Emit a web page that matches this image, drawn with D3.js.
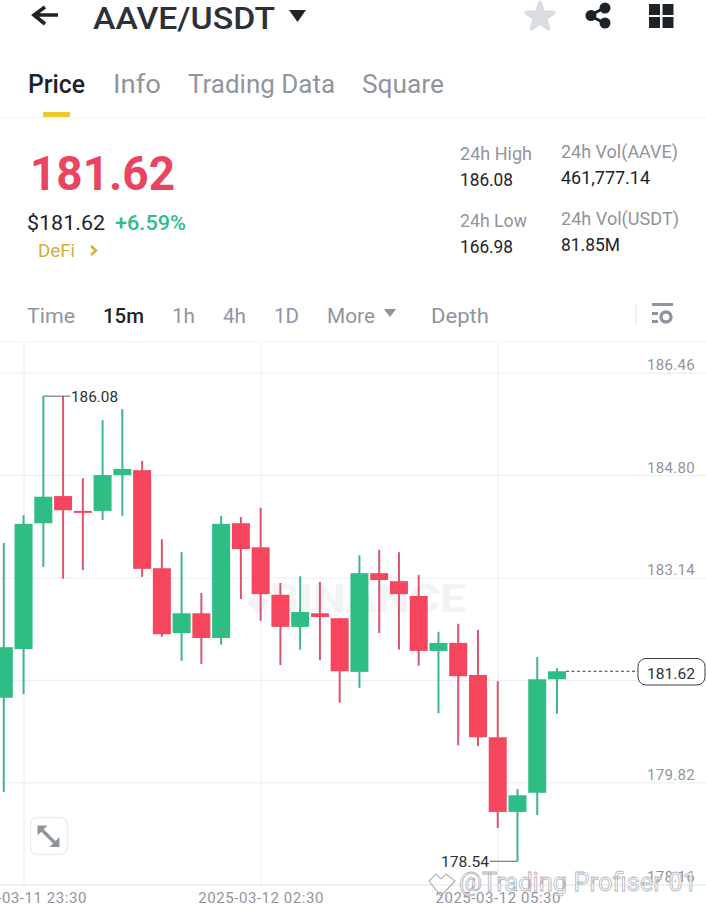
<!DOCTYPE html>
<html>
<head>
<meta charset="utf-8">
<script src="https://cdn.jsdelivr.net/npm/d3@7"></script>
<style>
  html, body { margin: 0; padding: 0; background: #fff; overflow: hidden; }
  text { font-family: Roboto, sans-serif; }
</style>
</head>
<body>
<div id="chart"></div>
<script>
/** DATA */
const times = ["2025-03-11 23:15", "2025-03-11 23:30", "2025-03-11 23:45", "2025-03-12 00:00", "2025-03-12 00:15",
  "2025-03-12 00:30", "2025-03-12 00:45", "2025-03-12 01:00", "2025-03-12 01:15", "2025-03-12 01:30",
  "2025-03-12 01:45", "2025-03-12 02:00", "2025-03-12 02:15", "2025-03-12 02:30", "2025-03-12 02:45",
  "2025-03-12 03:00", "2025-03-12 03:15", "2025-03-12 03:30", "2025-03-12 03:45", "2025-03-12 04:00",
  "2025-03-12 04:15", "2025-03-12 04:30", "2025-03-12 04:45", "2025-03-12 05:00", "2025-03-12 05:15",
  "2025-03-12 05:30", "2025-03-12 05:45", "2025-03-12 06:00", "2025-03-12 06:15"];
const opens = [181.19, 181.98, 184.02, 184.46, 184.22, 184.22, 184.80, 184.88, 183.29, 182.24, 182.56, 182.16, 184.02, 183.63, 182.86,
  182.34, 182.56, 182.48, 181.61, 183.21, 183.08, 182.84, 181.95, 182.08, 181.56, 180.55, 179.34, 179.65, 181.49];
const closes = [182.01, 184.01, 184.45, 184.23, 184.19, 184.80, 184.90, 183.28, 182.22, 182.56, 182.16, 184.01, 183.60, 182.87, 182.34,
  182.58, 182.50, 181.62, 183.21, 183.10, 182.87, 181.95, 182.08, 181.54, 180.55, 179.34, 179.61, 181.49, 181.62];
const highs = [183.70, 184.15, 186.08, 186.08, 184.75, 185.69, 185.87, 185.03, 183.76, 183.55, 182.89, 184.14, 184.12, 184.27, 183.05,
  183.16, 183.07, 182.48, 183.50, 183.59, 183.55, 183.18, 182.26, 182.39, 182.29, 181.46, 179.71, 181.85, 181.67];
const lows = [179.66, 181.25, 183.31, 183.12, 183.26, 184.07, 184.14, 183.15, 182.18, 181.79, 181.74, 182.05, 182.79, 182.44, 181.72,
  181.97, 181.80, 181.11, 181.35, 182.24, 181.97, 181.71, 180.94, 180.42, 180.41, 179.08, 178.54, 179.29, 180.93];
const priceTicks = [186.46, 184.80, 183.14, 181.48, 179.82, 178.16];
const timeTicks = ["2025-03-11 23:30", "2025-03-12 02:30", "2025-03-12 05:30"];
const lastPrice = 181.62;
const dayHigh = 186.08;
const dayLow = 178.54;

/** CONSTANTS */
const width = 706;
const height = 904;
const chart = { top: 342, bottom: 885 };
const green = "#2ebd85";
const red = "#f6465d";
const gridColor = "#ebecee";
const grey = "#8f959e";
const dark = "#1e2329";

const parseTime = d3.utcParse("%Y-%m-%d %H:%M");
const candles = times.map((t, i) => ({
  date: parseTime(t), open: opens[i], close: closes[i], high: highs[i], low: lows[i]
}));

const xScale = d3.scaleUtc()
  .domain([candles[0].date, candles[candles.length - 1].date])
  .range([3.8, 557]);
const yScale = d3.scaleLinear()
  .domain([priceTicks[0], priceTicks[priceTicks.length - 1]])
  .range([372.7, 884.7]);
const bodyWidth = 18;

const svg = d3.select("#chart")
  .append("svg")
  .attr("width", width)
  .attr("height", height)
  .style("display", "block");

// plain text helper, textLength keeps the widths of the screenshot's font
function label(x, y, str, size, color, w, weight) {
  return svg.append("text")
    .attr("x", x)
    .attr("y", y)
    .attr("font-size", size)
    .attr("fill", color)
    .attr("font-weight", weight || 400)
    .attr("textLength", w)
    .attr("lengthAdjust", "spacingAndGlyphs")
    .text(str);
}

/** HEADER */
svg.append("path")
  .attr("d", "M58 15H35M45 7L34 15L45 24")
  .attr("fill", "none").attr("stroke", dark).attr("stroke-width", 3.6);
label(93, 29, "AAVE/USDT", 32, "#2b3139", 182, 500);
svg.append("path").attr("d", "M289 10H306L297.5 22Z").attr("fill", dark);
svg.append("path")
  .attr("d", d3.symbol(d3.symbolStar, 230)())
  .attr("transform", "translate(540,17)")
  .attr("fill", "#d9dce1")
  .attr("stroke", "#d9dce1")
  .attr("stroke-width", 4)
  .attr("stroke-linejoin", "round");
svg.append("path")
  .attr("d", "M606 7L590 15.5L606 24")
  .attr("fill", "none").attr("stroke", dark).attr("stroke-width", 3);
[[605, 8], [591, 15.5], [605, 23]].forEach(p => {
  svg.append("circle").attr("cx", p[0]).attr("cy", p[1]).attr("r", 5.5).attr("fill", dark);
});
[[649, 4], [662.5, 4], [649, 17], [662.5, 17]].forEach(p => {
  svg.append("rect").attr("x", p[0]).attr("y", p[1]).attr("width", 11).attr("height", 11).attr("fill", dark);
});

/** TABS */
label(28, 93, "Price", 25, dark, 57, 500);
label(113, 93, "Info", 25, grey, 48);
label(188, 93, "Trading Data", 25, grey, 147);
label(362, 93, "Square", 25, grey, 82);
svg.append("rect").attr("x", 43).attr("y", 112).attr("width", 27).attr("height", 5).attr("fill", "#f0c92e");
svg.append("line").attr("x1", 0).attr("x2", width).attr("y1", 117.5).attr("y2", 117.5).attr("stroke", "#f6f6f7");

/** TICKER */
label(30, 190, "181.62", 49, "#ea4560", 145, 700);
label(27, 230, "$181.62", 21, dark, 78);
label(115, 230, "+6.59%", 21, green, 71, 500);
label(38, 257, "DeFi", 18, "#d4af37", 37);
svg.append("path")
  .attr("d", "M91 246L96 250.500L91 255")
  .attr("fill", "none").attr("stroke", "#d4af37").attr("stroke-width", 2.4);

label(460, 160, "24h High", 18, grey, 72);
label(460, 186, "186.08", 18, dark, 53);
label(460, 227, "24h Low", 18, grey, 67);
label(460, 253, "166.98", 18, dark, 53);
label(561, 158, "24h Vol(AAVE)", 18, grey, 117);
label(561, 184, "461,777.14", 18, dark, 89);
label(561, 225, "24h Vol(USDT)", 18, grey, 118);
label(561, 251, "81.85M", 18, dark, 59);

/** INTERVAL ROW */
label(27, 323, "Time", 21, grey, 48);
label(103, 323, "15m", 21, dark, 41, 500);
label(172, 323, "1h", 21, grey, 23);
label(223, 323, "4h", 21, grey, 23);
label(274, 323, "1D", 21, grey, 25);
label(327, 323, "More", 21, grey, 48);
svg.append("path").attr("d", "M384 309H396L390 317Z").attr("fill", grey);
label(431, 323, "Depth", 21, grey, 58);
svg.append("line").attr("x1", 636).attr("x2", 636).attr("y1", 304).attr("y2", 325).attr("stroke", "#e6e8ea");
svg.append("rect").attr("x", 652).attr("y", 303).attr("width", 21).attr("height", 3).attr("fill", grey);
svg.append("rect").attr("x", 652).attr("y", 312).attr("width", 6).attr("height", 3).attr("fill", grey);
svg.append("rect").attr("x", 652).attr("y", 320).attr("width", 6).attr("height", 3).attr("fill", grey);
svg.append("circle").attr("cx", 666).attr("cy", 317).attr("r", 5).attr("fill", "none").attr("stroke", grey).attr("stroke-width", 3.4);

/** GRID AND AXES */
svg.append("line").attr("x1", 0).attr("x2", width).attr("y1", chart.top).attr("y2", chart.top).attr("stroke", "#f4f4f5");

const yAxis = d3.axisRight(yScale)
  .tickValues(priceTicks)
  .tickFormat(d3.format(".2f"))
  .tickSize(width)
  .tickPadding(0);
const yAxisG = svg.append("g").call(yAxis);
yAxisG.select(".domain").remove();
yAxisG.selectAll("line").attr("stroke", gridColor);
yAxisG.selectAll("text")
  .attr("x", 695)
  .attr("dy", "-3px")
  .attr("text-anchor", "end")
  .attr("font-size", 15)
  .attr("letter-spacing", 0.3)
  .attr("fill", grey)
  .attr("font-family", "Roboto, sans-serif");

const xAxis = d3.axisBottom(xScale)
  .tickValues(timeTicks.map(parseTime))
  .tickFormat(d3.utcFormat("%Y-%m-%d %H:%M"))
  .tickSize(chart.top - chart.bottom)
  .tickPadding(0);
const xAxisG = svg.append("g")
  .attr("transform", `translate(0,${chart.bottom})`)
  .call(xAxis);
xAxisG.select(".domain").remove();
xAxisG.selectAll("line").attr("stroke", gridColor);
xAxisG.selectAll("text")
  .attr("y", 18)
  .attr("dy", 0)
  .attr("font-size", 15)
  .attr("letter-spacing", 0.55)
  .attr("fill", grey)
  .attr("font-family", "Roboto, sans-serif");
svg.append("line").attr("x1", 0).attr("x2", width).attr("y1", chart.bottom).attr("y2", chart.bottom).attr("stroke", gridColor);

/** BINANCE WATERMARK */
svg.append("text")
  .attr("x", 270).attr("y", 612)
  .attr("font-size", 38).attr("font-weight", 700)
  .attr("fill", "#f2f3f4")
  .attr("textLength", 196).attr("lengthAdjust", "spacingAndGlyphs")
  .text("BINANCE");
svg.append("path")
  .attr("d", "M258 592L269 603L258 614L247 603Z")
  .attr("fill", "#f2f3f4");

/** CANDLES */
const candleColor = d => d.close >= d.open ? green : red;

svg.selectAll("line.wick")
  .data(candles)
  .join("line")
  .attr("class", "wick")
  .attr("x1", d => xScale(d.date))
  .attr("x2", d => xScale(d.date))
  .attr("y1", d => yScale(d.high))
  .attr("y2", d => yScale(d.low))
  .attr("stroke", d => d.close >= d.open ? "#3eb68a" : "#d9566c")
  .attr("stroke-width", 2);

svg.selectAll("rect.body")
  .data(candles)
  .join("rect")
  .attr("class", "body")
  .attr("x", d => xScale(d.date) - bodyWidth / 2)
  .attr("width", bodyWidth)
  .attr("y", d => yScale(Math.max(d.open, d.close)))
  .attr("height", d => Math.max(2, Math.abs(yScale(d.open) - yScale(d.close))))
  .attr("fill", candleColor);

/** HIGH / LOW MARKERS */
const highX = xScale(candles[d3.greatestIndex(highs)].date);
svg.append("line")
  .attr("x1", highX).attr("x2", 70)
  .attr("y1", yScale(dayHigh)).attr("y2", yScale(dayHigh))
  .attr("stroke", "#5a6068").attr("stroke-width", 1);
label(71, yScale(dayHigh) + 6, d3.format(".2f")(dayHigh), 15, "#2b3139", 47);

const lowX = xScale(candles[d3.leastIndex(lows)].date);
svg.append("line")
  .attr("x1", 490).attr("x2", lowX)
  .attr("y1", yScale(dayLow)).attr("y2", yScale(dayLow))
  .attr("stroke", "#5a6068").attr("stroke-width", 1);
label(441, yScale(dayLow) + 6, d3.format(".2f")(dayLow), 15, "#2b3139", 48);

/** LAST PRICE TAG */
svg.append("line")
  .attr("x1", 566).attr("x2", 638)
  .attr("y1", yScale(lastPrice)).attr("y2", yScale(lastPrice))
  .attr("stroke", "#3a3f47").attr("stroke-width", 1)
  .attr("stroke-dasharray", "3,2.500");
svg.append("rect")
  .attr("x", 638).attr("y", 658.500)
  .attr("width", 67).attr("height", 26.500)
  .attr("rx", 8)
  .attr("fill", "#fff").attr("stroke", "#3a3f47").attr("stroke-width", 1);
label(647, 679, d3.format(".2f")(lastPrice), 15, "#2b3139", 48);

/** EXPAND BUTTON */
svg.append("rect")
  .attr("x", 30.500).attr("y", 817.500)
  .attr("width", 37).attr("height", 37)
  .attr("rx", 7)
  .attr("fill", "#fff").attr("stroke", "#eceef0").attr("stroke-width", 1.5);
svg.append("path")
  .attr("d", "M37.500 825.500H47.500L37.500 835.500ZM59.500 847H49.500L59.500 837Z")
  .attr("fill", "#8f959e");
svg.append("path")
  .attr("d", "M40 828L57 845")
  .attr("stroke", "#8f959e").attr("stroke-width", 3.4);

/** USER WATERMARK */
svg.append("text")
  .attr("x", 459).attr("y", 891)
  .attr("font-size", 26)
  .attr("fill", "#fff").attr("fill-opacity", 0.8)
  .attr("stroke", "#b0b3b9").attr("stroke-width", 0.8)
  .attr("textLength", 238).attr("lengthAdjust", "spacingAndGlyphs")
  .text("@Trading Profiser 01");
svg.append("path")
  .attr("d", "M429 881L436 874L441 879L446 874L455 881L441 896Z")
  .attr("fill", "none").attr("stroke", "#b0b3b9").attr("stroke-width", 1.2);
</script>
</body>
</html>
